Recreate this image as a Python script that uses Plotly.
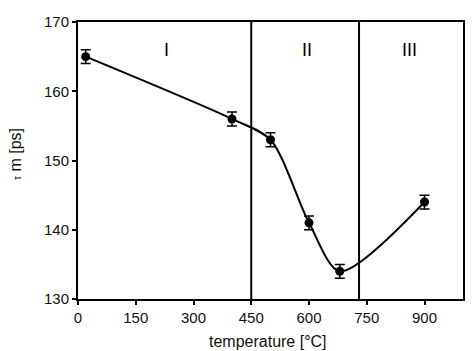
import plotly.graph_objects as go

temperature = [20, 400, 500, 600, 680, 900]
tau_m = [165.0, 156.0, 153.0, 141.0, 134.0, 144.0]
tau_err = [1.0, 1.0, 1.0, 1.0, 1.0, 1.0]
region_bounds = [450, 730]
region_labels = ["I", "II", "III"]
region_label_x = [230, 594, 862]
x_ticks = [0, 150, 300, 450, 600, 750, 900]
y_ticks = [130, 140, 150, 160, 170]

FONT = "Liberation Sans, Arial"

fig = go.Figure()
fig.add_trace(go.Scatter(
    x=temperature, y=tau_m, mode="lines+markers",
    line=dict(color="black", width=2, shape="spline", smoothing=0.8),
    marker=dict(color="black", size=9),
    error_y=dict(type="data", array=tau_err, visible=True, color="black",
                 thickness=1.5, width=5),
    showlegend=False,
))

for xb in region_bounds:
    fig.add_shape(type="line", x0=xb, x1=xb, y0=130, y1=170,
                  xref="x", yref="y", line=dict(color="black", width=2))

for lab, lx in zip(region_labels, region_label_x):
    fig.add_annotation(x=lx, y=166, text=lab, showarrow=False,
                       font=dict(size=18, color="black", family=FONT))

fig.add_annotation(x=0.494, y=-0.152, xref="paper", yref="paper", text="temperature [°C]",
                   showarrow=False, xanchor="center", yanchor="middle",
                   font=dict(size=16, color="#111", family=FONT))
fig.add_annotation(x=-0.164, y=0.523, xref="paper", yref="paper",
                   text="<span style='font-size:10px'>τ</span> m [ps]", textangle=-90,
                   showarrow=False, xanchor="center", yanchor="middle",
                   font=dict(size=16, color="#111", family=FONT))

axis_common = dict(showgrid=False, zeroline=False, showline=True, linecolor="black",
                   linewidth=2, mirror=True, ticks="outside", ticklen=4, tickwidth=1.5,
                   tickcolor="black", automargin=False,
                   tickfont=dict(size=15, color="#111", family=FONT))

fig.update_xaxes(range=[0, 1000], tickvals=x_ticks, **axis_common)
fig.update_yaxes(range=[130, 170], tickvals=y_ticks, **axis_common)

fig.update_layout(width=474, height=351, margin=dict(l=78, r=11, t=22, b=52),
                  plot_bgcolor="white", paper_bgcolor="white")

fig.write_html("out.html")
